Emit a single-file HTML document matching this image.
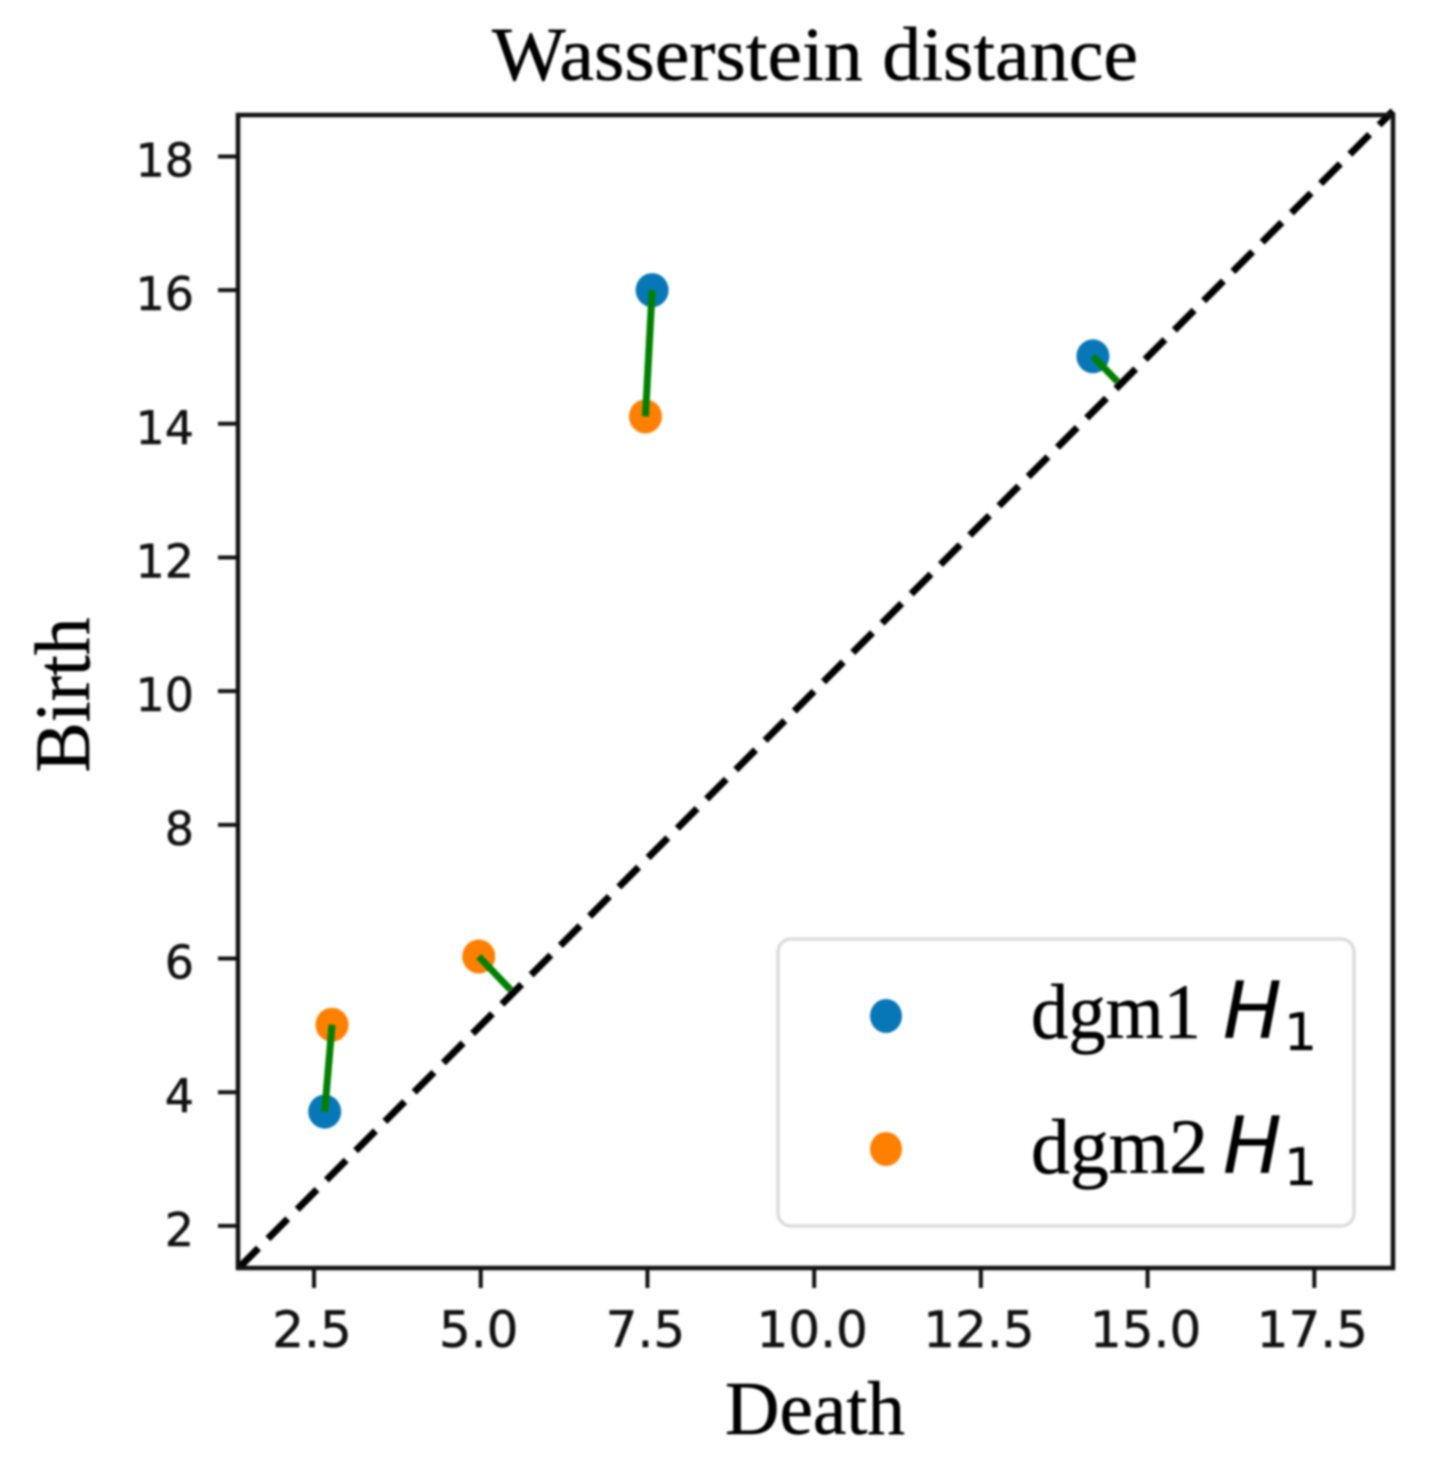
<!DOCTYPE html>
<html lang="en">
<head>
<meta charset="utf-8">
<title>Wasserstein distance</title>
<style>
html,body{margin:0;padding:0;background:#fff;width:1431px;height:1478px;overflow:hidden}
svg{display:block;filter:blur(1.1px)}
.serif{font-family:"Liberation Serif",serif;fill:#000;stroke:#000;stroke-width:.5px}
.tick{font-family:"DejaVu Sans","Liberation Sans",sans-serif;fill:#111;stroke:#111;stroke-width:.5px}
.math{font-family:"DejaVu Sans","Liberation Sans",sans-serif;fill:#000;stroke:#000;stroke-width:.3px}
</style>
</head>
<body>
<svg id="chart" xmlns="http://www.w3.org/2000/svg" width="1431" height="1478" viewBox="0 0 1431 1478">
  <rect width="1431" height="1478" fill="#fff"/>
  <text class="serif" x="815" y="80" font-size="76" text-anchor="middle" textLength="646" lengthAdjust="spacingAndGlyphs">Wasserstein distance</text>
  <text class="serif" x="815" y="1434" font-size="76" text-anchor="middle" textLength="180" lengthAdjust="spacingAndGlyphs">Death</text>
  <text class="serif" transform="translate(89 695) rotate(-90)" font-size="78" text-anchor="middle" textLength="155" lengthAdjust="spacingAndGlyphs">Birth</text>
  <g id="marks"></g>
  <rect x="238" y="115" width="1155" height="1153" fill="none" stroke="#111" stroke-width="4.5"/>
  <g id="ticks"></g>
  <g>
    <rect x="778" y="939" width="576" height="287" rx="13" fill="#fff" stroke="#dcdcdc" stroke-width="3.5"/>
    <ellipse cx="886" cy="1016" rx="16" ry="17" fill="#0877b8"/>
    <ellipse cx="886" cy="1149" rx="16" ry="17" fill="#ff7f00"/>
    <g>
      <text class="serif" x="1031" y="1038" font-size="78" textLength="170" lengthAdjust="spacingAndGlyphs">dgm1</text>
      <text class="math" x="1223" y="1038" font-size="78" font-style="italic">H</text>
      <text class="math" x="1284" y="1050" font-size="52">1</text>
    </g>
    <g>
      <text class="serif" x="1031" y="1173" font-size="78" textLength="177" lengthAdjust="spacingAndGlyphs">dgm2</text>
      <text class="math" x="1223" y="1173" font-size="78" font-style="italic">H</text>
      <text class="math" x="1284" y="1185" font-size="52">1</text>
    </g>
  </g>
</svg>
<script>
const xTickValues = [2.5, 5.0, 7.5, 10.0, 12.5, 15.0, 17.5];
const yTickValues = [2, 4, 6, 8, 10, 12, 14, 16, 18];
const xDomain = [1.36, 18.68];
const yDomain = [1.37, 18.62];
const diagonalLine = [1.36, 18.68];
const dgm1Births = [3.71, 16.0, 15.01];
const dgm1Deaths = [2.66, 7.57, 14.18];
const dgm2Births = [5.01, 14.11, 6.03];
const dgm2Deaths = [2.77, 7.47, 4.97];
const matchingFromDeath = [2.66, 7.47, 14.18, 4.97];
const matchingFromBirth = [3.71, 14.11, 15.01, 6.03];
const matchingToDeath = [2.77, 7.57, 14.55, 5.45];
const matchingToBirth = [5.01, 16.0, 14.63, 5.53];

const NS = 'http://www.w3.org/2000/svg';
const plot = {left: 238, right: 1393, top: 115, bottom: 1268};
function xScale(v) {
  return plot.left + (v - xDomain[0]) / (xDomain[1] - xDomain[0]) * (plot.right - plot.left);
}
function yScale(v) {
  return plot.bottom - (v - yDomain[0]) / (yDomain[1] - yDomain[0]) * (plot.bottom - plot.top);
}
function make(tag, attrs, parent) {
  const el = document.createElementNS(NS, tag);
  for (const k in attrs) el.setAttribute(k, attrs[k]);
  parent.appendChild(el);
  return el;
}
const marks = document.getElementById('marks');
const ticks = document.getElementById('ticks');

const diag = make('line', {x1: xScale(diagonalLine[0]), y1: yScale(diagonalLine[0]), x2: xScale(diagonalLine[1]), y2: yScale(diagonalLine[1]), stroke: '#000', 'stroke-width': 7, 'stroke-dasharray': '28 13.4', 'stroke-dashoffset': -1}, marks);



dgm1Deaths.forEach(function (d, i) {
  const p = make('ellipse', {cx: xScale(d), cy: yScale(dgm1Births[i]), rx: 16.5, ry: 17, fill: '#0877b8'}, marks);
  
  
});
dgm2Deaths.forEach(function (d, i) {
  const p = make('ellipse', {cx: xScale(d), cy: yScale(dgm2Births[i]), rx: 16.5, ry: 17, fill: '#ff7f00'}, marks);
  
  
});
matchingFromDeath.forEach(function (d, i) {
  const l = make('line', {x1: xScale(d), y1: yScale(matchingFromBirth[i]), x2: xScale(matchingToDeath[i]), y2: yScale(matchingToBirth[i]), stroke: '#008000', 'stroke-width': 7}, marks);
  
  
});

xTickValues.forEach(function (v) {
  const x = xScale(v);
  const t = make('line', {x1: x, y1: plot.bottom, x2: x, y2: plot.bottom + 20, stroke: '#111', 'stroke-width': 4}, ticks);
  
  
  const s = make('text', {x: x - 2, y: 1347, 'font-size': 50, 'text-anchor': 'middle', class: 'tick'}, ticks);
  s.textContent = v.toFixed(1);
  
  
});
yTickValues.forEach(function (v) {
  const y = yScale(v);
  const t = make('line', {x1: plot.left - 20, y1: y, x2: plot.left, y2: y, stroke: '#111', 'stroke-width': 4}, ticks);
  
  
  const s = make('text', {x: 194, y: y + 20, 'font-size': 46, 'text-anchor': 'end', class: 'tick'}, ticks);
  s.textContent = String(v);
  
  
});
</script>
</body>
</html>
